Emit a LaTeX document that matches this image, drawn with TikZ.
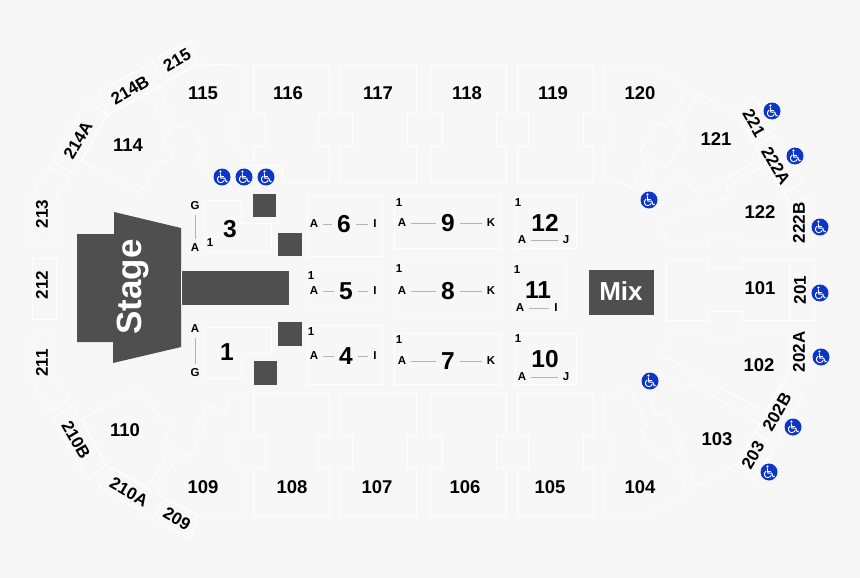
\documentclass[tikz,border=0pt]{standalone}
\usepackage{fontspec}
\setmainfont{Liberation Sans}
\definecolor{floorbg}{HTML}{F7F7F7}
\definecolor{stagegray}{HTML}{4F4F4F}
\definecolor{accessblue}{HTML}{0B36C8}
\tikzset{
  sect/.style={draw=white,line width=.8pt,line join=miter},
  faintsect/.style={draw=white!40!floorbg,line width=.8pt},
  seclabel/.style={inner sep=0pt,font=\bfseries\fontsize{18.5}{18.5}\selectfont},
  sidelabel/.style={inner sep=0pt,font=\bfseries\fontsize{17}{17}\selectfont},
  rownum/.style={inner sep=0pt,inner xsep=5pt,font=\bfseries\fontsize{24.5}{24.5}\selectfont},
  rowtag/.style={inner sep=0pt,inner xsep=5pt,inner ysep=5pt,font=\bfseries\fontsize{11.5}{11.5}\selectfont},
  rowline/.style={draw=black!30,line width=1pt},
  wheelchair/.pic={
    \fill[accessblue] (0,0) circle (8.5);
    \fill[white] (-1.6,-5.4) circle (1.2);
    \draw[white,line width=1pt] (-1.6,-3.6) -- (-1.2,1) -- (2.6,1) -- (4.2,4.8) -- (5.6,4.2);
    \draw[white,line width=.9pt] (-1.6,-.8) -- (2,-.8);
    \draw[white,line width=.9pt] (-2.8,-1) .. controls (-6,1) and (-4.6,6) .. (-1,5.6) .. controls (1,5.4) and (2,4.2) .. (2.2,3);
  }
}
\begin{document}
\begin{tikzpicture}[x=1pt,y=-1pt]
  \useasboundingbox (0,0) rectangle (860,578);
  \fill[floorbg] (0,0) rectangle (860,578);
  % upper bowl
  \draw[sect] (158,57) -- (191,41) -- (197,64) -- (169,79) -- cycle;
  \draw[sect] (99,92) -- (153,62) -- (165,83) -- (107,115) -- cycle;
  \draw[sect] (87,101) -- (107,115) -- (74,174) -- (52,161) -- cycle;
  \draw[sect] (49,167) -- (69,178) -- (56,199) -- (56,245) -- (32,245) -- (32,195) -- cycle;
  \draw[sect] (32,258) rectangle (56,319);
  \draw[sect] (32,333) -- (55,333) -- (55,377) -- (69,399) -- (49,411) -- (32,382) -- cycle;
  \draw[sect] (52,418) -- (73,406) -- (106,465) -- (88,479) -- cycle;
  \draw[sect] (111,468) -- (164,498) -- (153,518) -- (99,487) -- cycle;
  \draw[sect] (170,501) -- (197,515) -- (191,539) -- (158,522) -- cycle;
  \draw[sect] (754,97) -- (774,129) -- (753,141) -- (738,115) -- cycle;
  \draw[sect] (776,135) -- (804,182) -- (784,193) -- (756,146) -- cycle;
  \draw[sect] (789,203) -- (814,196) -- (814,247) -- (789,247);
  \draw[sect] (789,260) -- (789,320);
  \draw[sect] (789,331) -- (814,331) -- (814,382) -- (789,373) -- (783,385);
  \draw[sect] (783,385) -- (803,396) -- (776,443) -- (755,432) -- cycle;
  \draw[sect] (739,463) -- (755,432) -- (774,447) -- (755,481) -- cycle;
  \draw[sect] (784,193) -- (789,203);
  % lower bowl
  \draw[sect] (82,161) -- (107,115) -- (148,93) -- (171,134) -- (163,138) -- (173,157) -- (157,165) -- (140,193) -- cycle;
  \draw[sect] (213,183) -- (197,157) -- (206,153) -- (189,123) -- (180,128) -- (157,89) -- (165,83) -- (197,64) -- (242,65) -- (242,113) -- (232,113) -- (232,145) -- (242,145) -- (242,165);
  \draw[sect] (253,65) -- (329,65) -- (329,113) -- (318,113) -- (318,146) -- (329,146) -- (329,182) -- (282,182) -- (282,165) -- (242,165);
  \draw[sect] (253,165) -- (253,146) -- (265,146) -- (265,113) -- (253,113) -- (253,65);
  \draw[sect] (340,65) -- (416,65) -- (416,113) -- (407,113) -- (407,146) -- (416,146) -- (416,182) -- (340,182) -- (340,146) -- (352,146) -- (352,113) -- (340,113) -- cycle;
  \draw[sect] (430,65) -- (506,65) -- (506,113) -- (496,113) -- (496,146) -- (506,146) -- (506,182) -- (430,182) -- (430,146) -- (442,146) -- (442,113) -- (430,113) -- cycle;
  \draw[sect] (517,65) -- (593,65) -- (593,113) -- (583,113) -- (583,146) -- (593,146) -- (593,182) -- (517,182) -- (517,146) -- (528,146) -- (528,113) -- (517,113) -- cycle;
  \draw[sect] (604,65) -- (649,65) -- (689,88) -- (666,127) -- (657,122) -- (640,151) -- (649,156) -- (632,188) -- (619,182) -- (604,182) -- (604,145) -- (615,145) -- (615,113) -- (604,113) -- cycle;
  \draw[sect] (642,192) -- (657,163) -- (667,168) -- (685,137) -- (676,133) -- (698,93) -- (738,115) -- (762,158) -- (697,194) -- (682,173) -- (657,196);
  \draw[sect] (660,225) -- (697,205) -- (701,212) -- (730,195) -- (726,187) -- (765,165) -- (784,193) -- (789,203) -- (789,247) -- (742,247) -- (742,238) -- (708,238) -- (708,247) -- (666,247) -- (666,238) -- cycle;
  \draw[sect] (666,260) -- (708,260) -- (708,268) -- (742,268) -- (742,260) -- (814,260) -- (814,320) -- (742,320) -- (742,311) -- (708,311) -- (708,320) -- (666,320) -- cycle;
  \draw[sect] (666,331) -- (708,331) -- (708,339) -- (742,339) -- (742,331) -- (789,331) -- (789,373) -- (765,412) -- (662,355) -- (666,342) -- cycle;
  \draw[sect] (658,373) -- (687,391) -- (691,383) -- (759,424) -- (739,463) -- (697,486) -- (676,447) -- (683,443) -- (666,412) -- (657,416) -- (645,390);
  \draw[sect] (604,393) -- (619,393) -- (629,387) -- (648,425) -- (640,430) -- (657,458) -- (666,453) -- (689,492) -- (649,515) -- (604,515) -- (604,467) -- (615,467) -- (615,435) -- (604,435) -- cycle;
  \draw[sect] (517,393) -- (593,393) -- (593,435) -- (583,435) -- (583,468) -- (593,468) -- (593,516) -- (517,516) -- (517,468) -- (528,468) -- (528,435) -- (517,435) -- cycle;
  \draw[sect] (430,393) -- (506,393) -- (506,435) -- (496,435) -- (496,468) -- (506,468) -- (506,516) -- (430,516) -- (430,468) -- (442,468) -- (442,435) -- (430,435) -- cycle;
  \draw[sect] (340,393) -- (416,393) -- (416,435) -- (407,435) -- (407,468) -- (416,468) -- (416,516) -- (340,516) -- (340,468) -- (352,468) -- (352,435) -- (340,435) -- cycle;
  \draw[sect] (253,393) -- (329,393) -- (329,435) -- (318,435) -- (318,468) -- (329,468) -- (329,516) -- (253,516) -- (253,468) -- (265,468) -- (265,435) -- (253,435) -- cycle;
  \draw[sect] (157,491) -- (180,452) -- (189,457) -- (206,428) -- (197,423) -- (208,405) -- (225,414) -- (230,393) -- (242,393) -- (242,435) -- (232,435) -- (232,467) -- (242,467) -- (242,515) -- (197,515) -- (164,498) -- cycle;
  \draw[sect] (82,419) -- (140,387) -- (157,415) -- (173,424) -- (163,442) -- (171,447) -- (148,487) -- (106,465) -- cycle;
  % floor
  \draw[sect] (204,200) -- (241,200) -- (241,223) -- (271,223) -- (271,251) -- (204,251) -- cycle;
  \draw[sect] (204,327) -- (271,327) -- (271,353) -- (241,353) -- (241,378) -- (204,378) -- cycle;
  \draw[sect] (307,196) rectangle (382,256);
  \draw[sect] (394,196) rectangle (500,248);
  \draw[sect] (515,196) rectangle (576,248);
  \draw[faintsect] (307,270) rectangle (383,309);
  \draw[faintsect] (395,263) rectangle (500,316);
  \draw[faintsect] (513,263) rectangle (565,316);
  \draw[sect] (307,325) rectangle (382,384);
  \draw[sect] (394,333) rectangle (500,384);
  \draw[sect] (515,333) rectangle (576,384);
  % stage
  \fill[stagegray] (77,234) -- (114,234) -- (114,212) -- (181,228) -- (181,347) -- (113,363) -- (113,342) -- (77,342) -- cycle;
  \draw[white,line width=1pt] (181,271) -- (181,305);
  \fill[stagegray] (182,271) rectangle (289,305);
  \fill[stagegray] (253,194) rectangle (276,217);
  \fill[stagegray] (278,233) rectangle (302,256);
  \fill[stagegray] (278,322) rectangle (302,346);
  \fill[stagegray] (254,361) rectangle (277,385);
  \fill[stagegray] (589,270) rectangle (654,315);
  \node[text=white,inner sep=0pt,rotate=90,font=\bfseries\fontsize{35}{35}\selectfont] (stage) at (133,287) {Stage};
  \node[text=white,inner sep=0pt,font=\bfseries\fontsize{26}{26}\selectfont] (mix) at (621,291) {Mix};
  % section labels
  \node[seclabel] (s115) at (203,93) {115};
  \node[seclabel] (s116) at (288,93) {116};
  \node[seclabel] (s117) at (378,93) {117};
  \node[seclabel] (s118) at (467,93) {118};
  \node[seclabel] (s119) at (553,93) {119};
  \node[seclabel] (s120) at (640,93) {120};
  \node[seclabel] (s114) at (128,145) {114};
  \node[seclabel] (s121) at (716,139) {121};
  \node[seclabel] (s122) at (760,212) {122};
  \node[seclabel] (s101) at (760,288) {101};
  \node[seclabel] (s102) at (759,365) {102};
  \node[seclabel] (s103) at (717,439) {103};
  \node[seclabel] (s104) at (640,487) {104};
  \node[seclabel] (s105) at (550,487) {105};
  \node[seclabel] (s106) at (465,487) {106};
  \node[seclabel] (s107) at (377,487) {107};
  \node[seclabel] (s108) at (292,487) {108};
  \node[seclabel] (s109) at (203,487) {109};
  \node[seclabel] (s110) at (125,430) {110};
  \node[sidelabel,rotate=30] (s215) at (177,60) {215};
  \node[sidelabel,rotate=30] (s214b) at (130,90) {214B};
  \node[sidelabel,rotate=60] (s214a) at (78,140) {214A};
  \node[sidelabel,rotate=90] (s213) at (42,214) {213};
  \node[sidelabel,rotate=90] (s212) at (42,285) {212};
  \node[sidelabel,rotate=90] (s211) at (42,363) {211};
  \node[sidelabel,rotate=-60] (s210b) at (76,440) {210B};
  \node[sidelabel,rotate=-30] (s210a) at (129,492) {210A};
  \node[sidelabel,rotate=-30] (s209) at (177,519) {209};
  \node[sidelabel,rotate=-60] (s221) at (754,123) {221};
  \node[sidelabel,rotate=-60] (s222a) at (776,166) {222A};
  \node[sidelabel,rotate=90] (s222b) at (799,223) {222B};
  \node[sidelabel,rotate=90] (s201) at (800,290) {201};
  \node[sidelabel,rotate=90] (s202a) at (799,352) {202A};
  \node[sidelabel,rotate=60] (s202b) at (777,412) {202B};
  \node[sidelabel,rotate=60] (s203) at (753,455) {203};
  % floor 3 and 1
  \node[rownum] (n3) at (230,229) {3};
  \node[rowtag] (g3) at (195,206) {G};
  \node[rowtag] (a3) at (195,248) {A};
  \node[rowtag] (one3) at (210,243) {1};
  \draw[rowline] (g3) -- (a3);
  \node[rownum] (n1) at (227,352) {1};
  \node[rowtag] (a1) at (195,329) {A};
  \node[rowtag] (g1) at (195,373) {G};
  \draw[rowline] (a1) -- (g1);
  % floor 4 to 6
  \node[rownum] (n6) at (344,224) {6};
  \node[rowtag] (a6) at (314,224) {A};
  \node[rowtag] (i6) at (375,224) {I};
  \draw[rowline] (a6) -- (n6);
  \draw[rowline] (n6) -- (i6);
  \node[rownum] (n5) at (346,291) {5};
  \node[rowtag] (one5) at (311,276) {1};
  \node[rowtag] (a5) at (314,291) {A};
  \node[rowtag] (i5) at (375,291) {I};
  \draw[rowline] (a5) -- (n5);
  \draw[rowline] (n5) -- (i5);
  \node[rownum] (n4) at (346,356) {4};
  \node[rowtag] (one4) at (311,332) {1};
  \node[rowtag] (a4) at (314,356) {A};
  \node[rowtag] (i4) at (375,356) {I};
  \draw[rowline] (a4) -- (n4);
  \draw[rowline] (n4) -- (i4);
  % floor 7 to 9
  \node[rownum] (n9) at (448,223) {9};
  \node[rowtag] (one9) at (399,203) {1};
  \node[rowtag] (a9) at (402,223) {A};
  \node[rowtag] (k9) at (491,223) {K};
  \draw[rowline] (a9) -- (n9);
  \draw[rowline] (n9) -- (k9);
  \node[rownum] (n8) at (448,291) {8};
  \node[rowtag] (one8) at (399,269) {1};
  \node[rowtag] (a8) at (402,291) {A};
  \node[rowtag] (k8) at (491,291) {K};
  \draw[rowline] (a8) -- (n8);
  \draw[rowline] (n8) -- (k8);
  \node[rownum] (n7) at (448,361) {7};
  \node[rowtag] (one7) at (399,340) {1};
  \node[rowtag] (a7) at (402,361) {A};
  \node[rowtag] (k7) at (491,361) {K};
  \draw[rowline] (a7) -- (n7);
  \draw[rowline] (n7) -- (k7);
  % floor 10 to 12
  \node[rownum] (n12) at (545,223) {12};
  \node[rowtag] (one12) at (518,203) {1};
  \node[rowtag] (a12) at (522,240) {A};
  \node[rowtag] (j12) at (566,240) {J};
  \draw[rowline] (a12) -- (j12);
  \node[rownum] (n11) at (538,290) {11};
  \node[rowtag] (one11) at (517,270) {1};
  \node[rowtag] (a11) at (520,308) {A};
  \node[rowtag] (i11) at (556,308) {I};
  \draw[rowline] (a11) -- (i11);
  \node[rownum] (n10) at (545,359) {10};
  \node[rowtag] (one10) at (518,339) {1};
  \node[rowtag] (a10) at (522,377) {A};
  \node[rowtag] (j10) at (566,377) {J};
  \draw[rowline] (a10) -- (j10);
  % access
  \pic (wc1) at (222,177) {wheelchair};
  \pic (wc2) at (244,177) {wheelchair};
  \pic (wc3) at (266,177) {wheelchair};
  \pic (wc4) at (649,200) {wheelchair};
  \pic (wc5) at (772,111) {wheelchair};
  \pic (wc6) at (795,156) {wheelchair};
  \pic (wc7) at (820,227) {wheelchair};
  \pic (wc8) at (820,293) {wheelchair};
  \pic (wc9) at (821,357) {wheelchair};
  \pic (wc10) at (650,381) {wheelchair};
  \pic (wc11) at (793,427) {wheelchair};
  \pic (wc12) at (769,472) {wheelchair};
\end{tikzpicture}
\end{document}
